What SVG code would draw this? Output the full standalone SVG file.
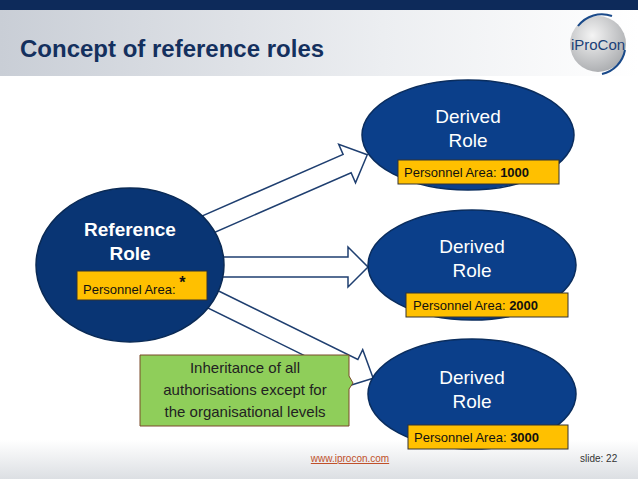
<svg xmlns="http://www.w3.org/2000/svg" width="638" height="479" viewBox="0 0 638 479">
<defs>
<linearGradient id="hdr" x1="0" y1="0" x2="1" y2="0"><stop offset="0" stop-color="#c9ced6"/><stop offset="0.6" stop-color="#eceef1"/><stop offset="1" stop-color="#ffffff"/></linearGradient>
<linearGradient id="ftr" x1="0" y1="0" x2="0" y2="1"><stop offset="0" stop-color="#ffffff"/><stop offset="1" stop-color="#dcdfe3"/></linearGradient>
<radialGradient id="logo" cx="0.4" cy="0.35" r="0.7"><stop offset="0" stop-color="#f4f4f4"/><stop offset="1" stop-color="#a9abae"/></radialGradient>
</defs>
<style>
.ell{fill:#0b3f8a;stroke:#0a2d5e;stroke-width:1.5}
.ref{fill:#093574;stroke:#0a2a55;stroke-width:1.5}
.arr{fill:#fff;stroke:#1f3f70;stroke-width:1.5}
.yb{fill:#ffc000;stroke:#333;stroke-width:1}
.wt{font-family:"Liberation Sans",Arial,sans-serif;fill:#fff;text-anchor:middle;font-size:19px}
.pa{font-family:"Liberation Sans",Arial,sans-serif;fill:#111;font-size:13px}
</style>
<rect width="638" height="479" fill="#fff"/>
<rect x="0" y="440" width="638" height="39" fill="url(#ftr)"/>
<rect x="0" y="10" width="638" height="66" fill="url(#hdr)"/>
<rect x="0" y="0" width="638" height="10" fill="#0d2a5a"/>
<text x="20" y="57" font-family="Liberation Sans,Arial,sans-serif" font-weight="bold" font-size="24" fill="#14305e">Concept of reference roles</text>
<g id="logo-g">
<circle cx="598" cy="44" r="28" fill="url(#logo)"/>
<path d="M578 26 A30 30 0 0 1 612 16" fill="none" stroke="#1a4a8a" stroke-width="2"/>
<path d="M625 50 A30 30 0 0 1 602 74" fill="none" stroke="#1a4a8a" stroke-width="2"/>
<text x="598" y="50" text-anchor="middle" font-family="Liberation Sans,Arial,sans-serif" font-size="15" fill="#1a3f78">iProCon</text>
</g>
<g id="connectors">
<polygon class="arr" transform="translate(195,230) rotate(-23.6)" points="0,-10 166,-10 166,-21 188,0 166,21 166,10 0,10"/>
<polygon class="arr" transform="translate(215,267)" points="0,-10 133,-10 133,-20 153,0 133,20 133,10 0,10"/>
<polygon class="arr" transform="translate(200,293) rotate(26.2)" points="0,-10 171,-10 171,-21 193,0 171,21 171,10 0,10"/>
</g>
<g id="ref">
<ellipse class="ref" cx="130" cy="265" rx="94" ry="77"/>
<text class="wt" x="130" y="236" font-weight="bold" font-size="20">Reference</text>
<text class="wt" x="130" y="260" font-weight="bold" font-size="20">Role</text>
<rect class="yb" x="77" y="271" width="130" height="29"/>
<text class="pa" x="83" y="294">Personnel Area: <tspan font-weight="bold" font-size="16" dy="-6">*</tspan></text>
</g>
<g id="d1">
<ellipse class="ell" cx="468" cy="135" rx="106" ry="55"/>
<text class="wt" x="468" y="123">Derived</text>
<text class="wt" x="468" y="147">Role</text>
<rect class="yb" x="398" y="160" width="161" height="24"/>
<text class="pa" x="404" y="177">Personnel Area: <tspan font-weight="bold">1000</tspan></text>
</g>
<g id="d2">
<ellipse class="ell" cx="472" cy="265" rx="104" ry="55"/>
<text class="wt" x="472" y="253">Derived</text>
<text class="wt" x="472" y="277">Role</text>
<rect class="yb" x="406" y="293" width="162" height="24"/>
<text class="pa" x="413" y="310">Personnel Area: <tspan font-weight="bold">2000</tspan></text>
</g>
<g id="d3">
<ellipse class="ell" cx="472" cy="394" rx="104" ry="55"/>
<text class="wt" x="472" y="384">Derived</text>
<text class="wt" x="472" y="408">Role</text>
<rect class="yb" x="408" y="425" width="160" height="24"/>
<text class="pa" x="414" y="442">Personnel Area: <tspan font-weight="bold">3000</tspan></text>
</g>
<g id="note">
<path d="M140 355 H349 V376 L353 383 L349 389 V426 H140 Z" fill="#8fce5a" stroke="#7a4a2a" stroke-width="1"/>
<g font-family="Liberation Sans,Arial,sans-serif" font-size="15" fill="#222" text-anchor="middle">
<text x="245" y="373">Inheritance of all</text>
<text x="245" y="395">authorisations except for</text>
<text x="245" y="417">the organisational  levels</text>
</g>
</g>
<text x="350" y="462" text-anchor="middle" font-family="Liberation Sans,Arial,sans-serif" font-size="10" fill="#c0502a" text-decoration="underline">www.iprocon.com</text>
<text x="580" y="462" font-family="Liberation Sans,Arial,sans-serif" font-size="10" fill="#333">slide: 22</text>
</svg>
